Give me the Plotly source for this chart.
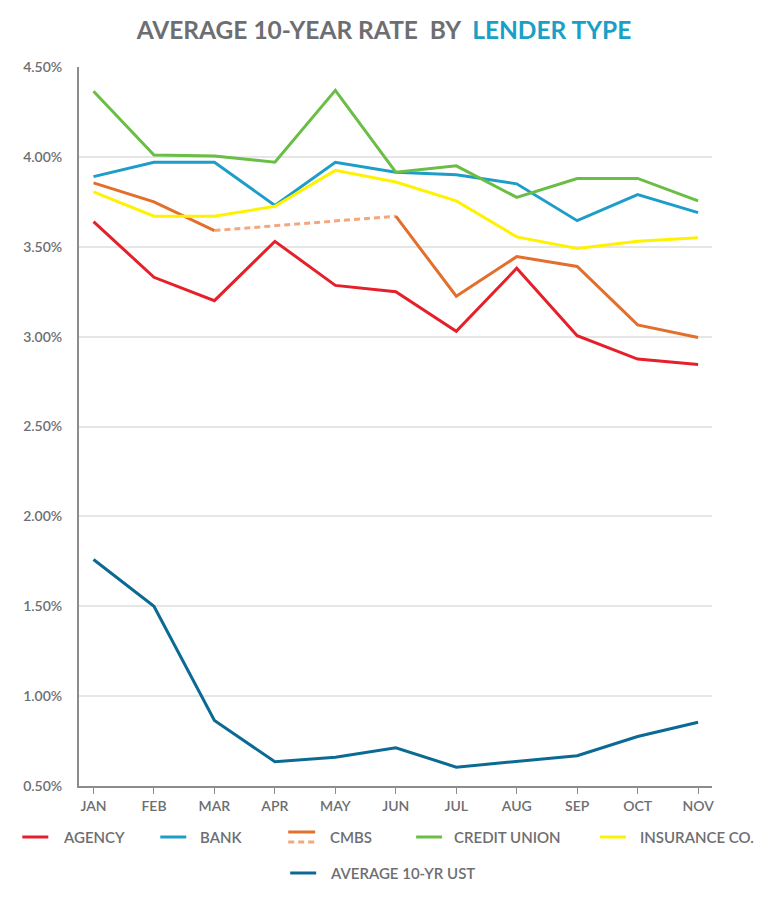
import plotly.graph_objects as go

# Monthly average 10-year rates (%) by lender type
months = ["JAN", "FEB", "MAR", "APR", "MAY", "JUN", "JUL", "AUG", "SEP", "OCT", "NOV"]

agency = [3.64, 3.33, 3.20, 3.53, 3.285, 3.25, 3.03, 3.38, 3.005, 2.875, 2.845]
bank = [3.89, 3.97, 3.97, 3.73, 3.97, 3.915, 3.90, 3.85, 3.645, 3.79, 3.69]
cmbs = [3.855, 3.75, 3.59, None, None, 3.67, 3.225, 3.445, 3.39, 3.065, 2.995]
cmbs_gap = [None, None, 3.59, None, None, 3.67, None, None, None, None, None]
credit_union = [4.365, 4.01, 4.005, 3.97, 4.37, 3.915, 3.95, 3.775, 3.88, 3.88, 3.755]
insurance = [3.805, 3.67, 3.67, 3.725, 3.925, 3.86, 3.755, 3.555, 3.49, 3.53, 3.55]
ust_10yr = [1.76, 1.50, 0.865, 0.635, 0.66, 0.713, 0.605, 0.638, 0.668, 0.775, 0.855]

y_ticks = [0.5, 1.0, 1.5, 2.0, 2.5, 3.0, 3.5, 4.0, 4.5]

GRAY = "#6d6e71"
TEAL = "#1b9fc6"
FONT = "Lato"
GAP_DASH = "6px,4px"

series = [
    ("AGENCY", agency, "#e5202a"),
    ("BANK", bank, "#1e9dc9"),
    ("CMBS", cmbs, "#e36f2c"),
    ("CREDIT UNION", credit_union, "#6abd45"),
    ("INSURANCE CO.", insurance, "#fff200"),
    ("AVERAGE 10-YR UST", ust_10yr, "#0b6a94"),
]

fig = go.Figure()

# dashed bridge over the months with no CMBS data
fig.add_trace(go.Scatter(
    x=months, y=cmbs_gap, mode="lines", connectgaps=True,
    line=dict(color="#f4a77e", width=3, dash=GAP_DASH),
    showlegend=False, hoverinfo="skip",
))

for name, vals, color in series:
    fig.add_trace(go.Scatter(
        x=months, y=vals, name=name, mode="lines",
        line=dict(color=color, width=3),
        showlegend=False,
    ))

# page body adds an 8px offset, so positions below are in reference pixels
OFF = 8
PL, PW = 78.7, 633.3
PB, PH = 786.0, 719.0


def px_x(px):
    return (px - PL) / PW


def px_y(py):
    return (PB - py) / PH


legend_items = [
    # label, line start px, text px, row y px, color
    ("AGENCY", 22, 61, 837, "#e5202a"),
    ("BANK", 160, 198, 837, "#1e9dc9"),
    ("CMBS", 288, 328, 837, "#e36f2c"),
    ("CREDIT UNION", 416, 452, 837, "#6abd45"),
    ("INSURANCE CO.", 600, 638, 837, "#fff200"),
    ("AVERAGE 10-YR UST", 290, 328, 873, "#0b6a94"),
]

shapes = []
annotations = []
for label, lx, tx, ly, color in legend_items:
    if label == "CMBS":
        shapes.append(dict(type="line", xref="paper", yref="paper",
                           x0=px_x(lx), x1=px_x(lx + 27), y0=px_y(ly - 5), y1=px_y(ly - 5),
                           line=dict(color=color, width=3)))
        shapes.append(dict(type="line", xref="paper", yref="paper",
                           x0=px_x(lx), x1=px_x(lx + 27), y0=px_y(ly + 5), y1=px_y(ly + 5),
                           line=dict(color="#f4a77e", width=3, dash=GAP_DASH)))
    else:
        shapes.append(dict(type="line", xref="paper", yref="paper",
                           x0=px_x(lx), x1=px_x(lx + 26), y0=px_y(ly), y1=px_y(ly),
                           line=dict(color=color, width=3)))
    annotations.append(dict(
        text=label, xref="paper", yref="paper", x=px_x(tx), y=px_y(ly),
        xanchor="left", yanchor="middle", showarrow=False,
        font=dict(family=FONT, size=15, color=GRAY, weight=600),
    ))

fig.update_layout(
    width=768, height=897,
    margin=dict(l=79 - OFF, r=56 + OFF, t=67 - OFF, b=111 + OFF),
    paper_bgcolor="white", plot_bgcolor="white",
    title=dict(
        text=(f"<b><span style='color:{GRAY}'>AVERAGE 10-YEAR RATE&nbsp;&nbsp;BY&nbsp;&nbsp;</span>"
              f"<span style='color:{TEAL}'>LENDER TYPE</span></b>"),
        x=(384 - OFF) / 768, xanchor="center", y=1 - (30 - OFF) / 897, yanchor="middle",
        font=dict(family=FONT, size=24.5, color=GRAY),
    ),
    shapes=shapes,
    annotations=annotations,
    showlegend=False,
)

fig.update_xaxes(
    type="category", range=[-0.24, 10.23],
    showgrid=False, showline=True, linecolor="#8c8c8c", linewidth=2,
    ticks="outside", ticklen=6, tickcolor="#8c8c8c", tickwidth=1,
    tickfont=dict(family=FONT, size=14, color=GRAY, weight=600),
)
fig.update_yaxes(
    range=[0.5, 4.5], tickvals=y_ticks,
    ticktext=[f"{v:.2f}%" for v in y_ticks],
    showgrid=True, gridcolor="#e6e6e6", gridwidth=1.5,
    showline=True, linecolor="#8c8c8c", linewidth=2,
    zeroline=False, ticks="", ticklabelstandoff=12,
    tickfont=dict(family=FONT, size=14, color=GRAY, weight=600),
)

fig.write_html("out.html")
